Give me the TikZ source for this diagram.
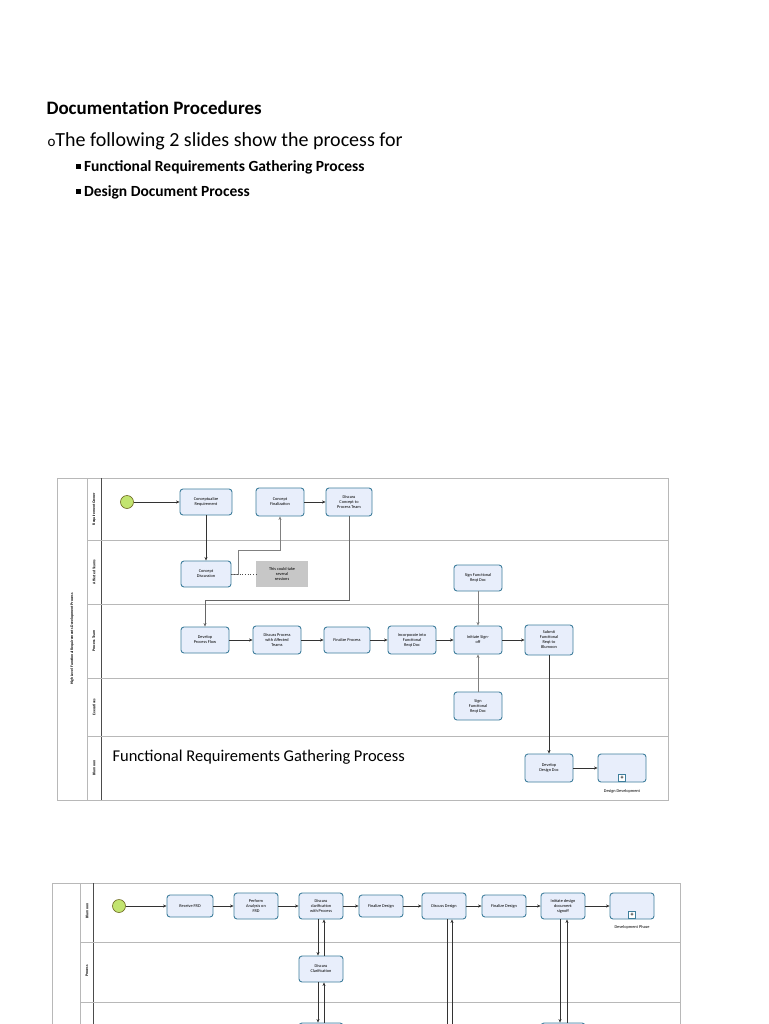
\documentclass[tikz,border=0pt]{standalone}
\usepackage{fontspec}
\setmainfont{Carlito}
\usetikzlibrary{arrows.meta}
\definecolor{boxfill}{HTML}{E8EEFB}
\definecolor{boxdraw}{HTML}{3E7E9C}
\definecolor{lanegray}{HTML}{B8B8B8}
\tikzset{
  task/.style={draw=boxdraw,fill=boxfill,line width=0.9pt,rounded corners=3pt,align=center,font=\fontsize{4.3}{5}\selectfont,inner sep=1pt},
  startev/.style={circle,draw=olive!70!black,fill=yellow!60!green!60,minimum size=13pt,inner sep=0pt,line width=0.6pt},
  flow/.style={-{Stealth[length=3.5pt,width=3pt]},line width=0.4pt,black!80},
  lanelbl/.style={rotate=90,font=\bfseries\fontsize{3.8}{4}\selectfont},
  note/.style={fill=black!22,align=center,font=\fontsize{4.3}{5}\selectfont,minimum width=52pt,minimum height=26pt,inner sep=1pt},
}
\begin{document}
\begin{tikzpicture}[x=1pt,y=-1pt]
\useasboundingbox (0,0) rectangle (768,1024);
\fill[white] (0,0) rectangle (768,1024);
\begin{scope}
\clip (0,0) rectangle (768,1024);
% header
\node[anchor=west,font=\bfseries\fontsize{19}{22}\selectfont] (h1) at (43,108) {Documentation Procedures};
\node[anchor=west,font=\fontsize{20}{24}\selectfont] (h2) at (44,141) {\fontsize{15}{15}\selectfont o\fontsize{20}{24}\selectfont The following 2 slides show the process for};
\node[anchor=west,font=\bfseries\fontsize{15.5}{18}\selectfont] (h3) at (72,167) {\raisebox{2.5pt}{\rule{5pt}{5pt}}\ Functional Requirements Gathering Process};
\node[anchor=west,font=\bfseries\fontsize{15.5}{18}\selectfont] (h4) at (72,192) {\raisebox{2.5pt}{\rule{5pt}{5pt}}\ Design Document Process};

% ===== Diagram 1 =====
\draw[lanegray,line width=0.8pt] (57,478) rectangle (668,800);
\draw[lanegray,line width=0.8pt] (87,478) -- (87,800);
\draw[black!70,line width=0.8pt] (101,478) -- (101,800);
\foreach \yy in {540,604,678,736}{\draw[lanegray,line width=0.8pt] (87,\yy) -- (668,\yy);}
\node[lanelbl] (p1) at (72,639) {High Level Functional Requirements Development Process};
\node[lanelbl] (l11) at (94,509) {Requirement Owner};
\node[lanelbl] (l12) at (94,572) {Affected Teams};
\node[lanelbl] (l13) at (94,641) {Process Team};
\node[lanelbl] (l14) at (94,707) {Executives};
\node[lanelbl] (l15) at (94,768) {Blumoon};

\node[startev] (s1) at (127,502) {};
\node[task,minimum width=52pt,minimum height=26pt] (cr) at (206,502) {Conceptualize\\Requirement};
\node[task,minimum width=48pt,minimum height=28pt] (cf) at (280,502) {Concept\\Finalization};
\node[task,minimum width=46pt,minimum height=28pt] (dc) at (349,502) {Discuss\\Concept to\\Process Team};
\node[task,minimum width=50pt,minimum height=26pt] (cd) at (206,574) {Concept\\Discussion};
\node[note] (nt) at (282,574) {This could take\\several\\sessions};
\node[task,minimum width=48pt,minimum height=26pt] (dpf) at (205,640) {Develop\\Process Flow};
\node[task,minimum width=48pt,minimum height=28pt] (dpa) at (277,640) {Discuss Process\\with Affected\\Teams};
\node[task,minimum width=46pt,minimum height=26pt] (fp) at (347,640) {Finalize Process};
\node[task,minimum width=48pt,minimum height=28pt] (inc) at (412,640) {Incorporate into\\Functional\\Reqt Doc};
\node[task,minimum width=48pt,minimum height=28pt] (is) at (478,640) {Initiate Sign-\\off};
\node[task,minimum width=48pt,minimum height=30pt] (sub) at (549,640) {Submit\\Functional\\Reqt to\\Blumoon};
\node[task,minimum width=48pt,minimum height=26pt] (sg1) at (478,578) {Sign Functional\\Reqt Doc};
\node[task,minimum width=48pt,minimum height=28pt] (sg2) at (478,706) {Sign\\Functional\\Reqt Doc};
\node[task,minimum width=48pt,minimum height=28pt] (ddd) at (549,768) {Develop\\Design Doc};
\node[task,minimum width=48pt,minimum height=28pt] (dd) at (622,768) {};
\node[draw=boxdraw,fill=white,line width=0.6pt,minimum size=7pt,inner sep=0pt,font=\fontsize{6}{6}\selectfont\bfseries] (dd+) at (622,778) {+};
\node[font=\fontsize{4.3}{5}\selectfont] (ddl) at (622,791) {Design Development};
\node[anchor=west,font=\fontsize{16.5}{19}\selectfont] (t1) at (109,757) {Functional Requirements Gathering Process};

\draw[flow] (s1) -- (cr);
\draw[flow,line width=0.8pt] (cr) -- (cd);
\draw[flow,black!50] (cd.east) -- (238,574) -- (238,550) -- (280,550) -- (cf.south);
\draw[black!70,dotted,line width=0.7pt] (cd.east) -- (nt.west);
\draw[flow] (cf) -- (dc);
\draw[flow,black!60] (dc.south) -- (349,600) -- (205,600) -- (dpf.north);
\draw[flow] (dpf) -- (dpa);
\draw[flow] (dpa) -- (fp);
\draw[flow] (fp) -- (inc);
\draw[flow] (inc) -- (is);
\draw[flow] (is) -- (sub);
\draw[flow,black!50] (sg1) -- (is);
\draw[flow,black!50] (sg2) -- (is);
\draw[flow] (sub) -- (ddd);
\draw[flow] (ddd) -- (dd);

% ===== Diagram 2 =====
\draw[lanegray,line width=0.8pt] (52,883) -- (680,883) -- (680,1030);
\draw[lanegray,line width=0.8pt] (52,883) -- (52,1030);
\draw[lanegray,line width=0.8pt] (80,883) -- (80,1030);
\draw[black!70,line width=0.8pt] (93,883) -- (93,1030);
\foreach \yy in {942,1002}{\draw[lanegray,line width=0.8pt] (80,\yy) -- (680,\yy);}
\node[lanelbl,anchor=east] (p2) at (66,1022) {High Level Design Document Process};
\node[lanelbl] (l21) at (87,911) {Blumoon};
\node[lanelbl] (l22) at (87,971) {Process};
\node[lanelbl,anchor=east] (l23) at (87,1022) {Affected Teams};

\node[startev] (s2) at (119,906) {};
\node[task,minimum width=46pt,minimum height=22pt] (rf) at (190,906) {Receive FRD};
\node[task,minimum width=44pt,minimum height=26pt] (pa) at (256,906) {Perform\\Analysis on\\FRD};
\node[task,minimum width=44pt,minimum height=26pt] (dcl) at (321,906) {Discuss\\clarification\\with Process};
\node[task,minimum width=44pt,minimum height=22pt] (fd1) at (381,906) {Finalize Design};
\node[task,minimum width=44pt,minimum height=26pt] (dsd) at (444,906) {Discuss Design};
\node[task,minimum width=44pt,minimum height=22pt] (fd2) at (504,906) {Finalize Design};
\node[task,minimum width=44pt,minimum height=26pt] (ids) at (563,906) {Initiate design\\document\\signoff};
\node[task,minimum width=44pt,minimum height=26pt] (dph) at (632,906) {};
\node[draw=boxdraw,fill=white,line width=0.6pt,minimum size=7pt,inner sep=0pt,font=\fontsize{6}{6}\selectfont\bfseries] (dph+) at (632,915) {+};
\node[font=\fontsize{4.3}{5}\selectfont] (dphl) at (632,927) {Development Phase};
\node[task,minimum width=44pt,minimum height=26pt] (dcl2) at (321,969) {Discuss\\Clarification};
\node[task,minimum width=44pt,minimum height=26pt] (b1) at (321,1036) {};
\node[task,minimum width=44pt,minimum height=26pt] (b2) at (563,1036) {};
\coordinate (e1) at (447,1030);
\coordinate (e2) at (452,1030);

\draw[flow] (s2) -- (rf);
\draw[flow] (rf) -- (pa);
\draw[flow] (pa) -- (dcl);
\draw[flow] (dcl) -- (fd1);
\draw[flow] (fd1) -- (dsd);
\draw[flow] (dsd) -- (fd2);
\draw[flow] (fd2) -- (ids);
\draw[flow] (ids) -- (dph);
\draw[flow] ([xshift=-3pt]dcl.south) -- ([xshift=-3pt]dcl2.north);
\draw[flow] ([xshift=3pt]dcl2.north) -- ([xshift=3pt]dcl.south);
\draw[flow] ([xshift=-3pt]dcl2.south) -- ([xshift=-3pt]b1.north);
\draw[flow] ([xshift=3pt]b1.north) -- ([xshift=3pt]dcl2.south);
\draw[line width=0.4pt,black!80] ([xshift=3pt]dsd.south) -- (e1);
\draw[flow] (e2) -- ([xshift=8pt]dsd.south);
\draw[flow] ([xshift=-3pt]ids.south) -- ([xshift=-3pt]b2.north);
\draw[flow] ([xshift=4pt]b2.north) -- ([xshift=4pt]ids.south);
\end{scope}
\end{tikzpicture}
\end{document}
